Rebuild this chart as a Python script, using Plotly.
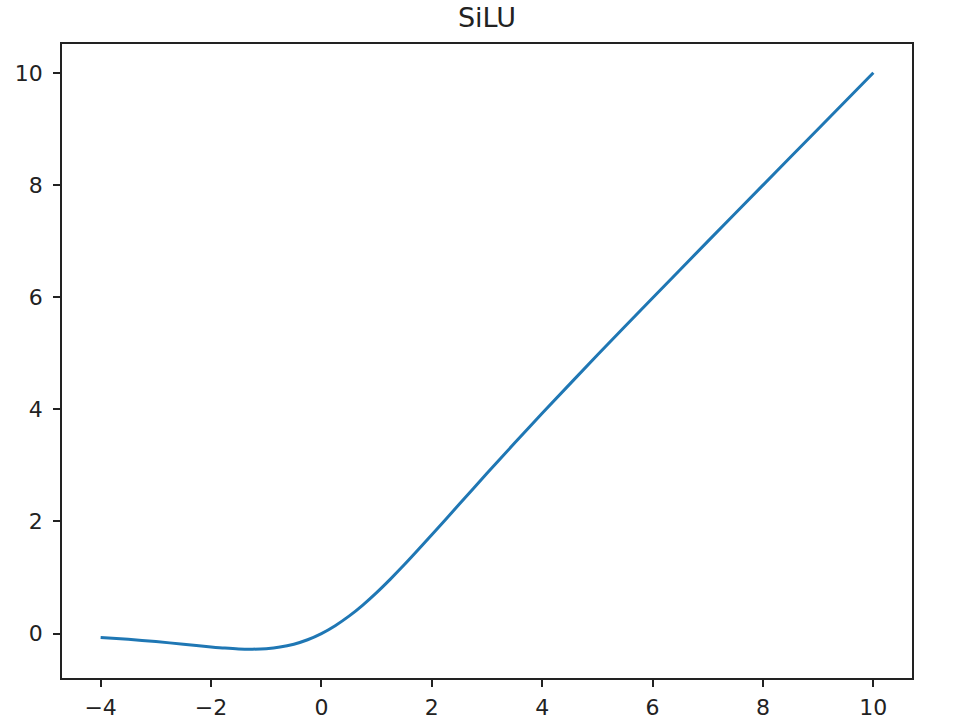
import plotly.graph_objects as go

x_vals = [-4, -3.5, -3, -2.5, -2, -1.75, -1.5, -1.25, -1, -0.75, -0.5, -0.25, 0,
          0.25, 0.5, 0.75, 1, 1.25, 1.5, 2, 2.5, 3, 3.5, 4, 5, 6, 7, 8, 9, 10]
y_vals = [-0.072, -0.103, -0.142, -0.190, -0.238, -0.259, -0.274, -0.278, -0.269, -0.241, -0.189, -0.110, 0.0,
          0.141, 0.311, 0.509, 0.731, 0.972, 1.226, 1.762, 2.310, 2.858, 3.397, 3.928, 4.967, 5.985, 6.994, 7.997, 8.999, 10.0]
x_ticks = [-4, -2, 0, 2, 4, 6, 8, 10]
y_ticks = [0, 2, 4, 6, 8, 10]
title_text = "SiLU"

fig = go.Figure()
fig.add_trace(go.Scatter(x=x_vals, y=y_vals, mode="lines",
                         line=dict(color="#1f77b4", width=3, shape="spline", smoothing=0.8),
                         showlegend=False, hoverinfo="skip"))

axis_common = dict(showgrid=False, zeroline=False, showline=True, mirror=True, automargin=False,
                   linecolor="#222222", linewidth=1.7, ticks="outside", ticklen=7,
                   tickwidth=1.7, tickcolor="#222222",
                   tickfont=dict(family="DejaVu Sans", size=22, color="#222222"))

fig.update_xaxes(range=[-4.7, 10.7], tickvals=x_ticks,
                 ticktext=[("\u2212" + str(-t)) if t < 0 else str(t) for t in x_ticks],
                 ticklabelstandoff=2, **axis_common)
fig.update_yaxes(range=[-0.792, 10.514], tickvals=y_ticks, ticktext=[str(t) for t in y_ticks],
                 ticklabelstandoff=6, **axis_common)

fig.update_layout(
    width=953, height=720,
    margin=dict(l=62, r=41, t=44, b=42),
    paper_bgcolor="white", plot_bgcolor="white",
    title=dict(text=title_text, x=0.5, xanchor="center", xref="paper",
               yref="container", y=1 - 18 / 720, yanchor="middle",
               font=dict(family="DejaVu Sans", size=27, color="#222222")),
)

fig.write_html("out.html", config={"displayModeBar": False},
               post_script="document.body.style.margin='0';")
